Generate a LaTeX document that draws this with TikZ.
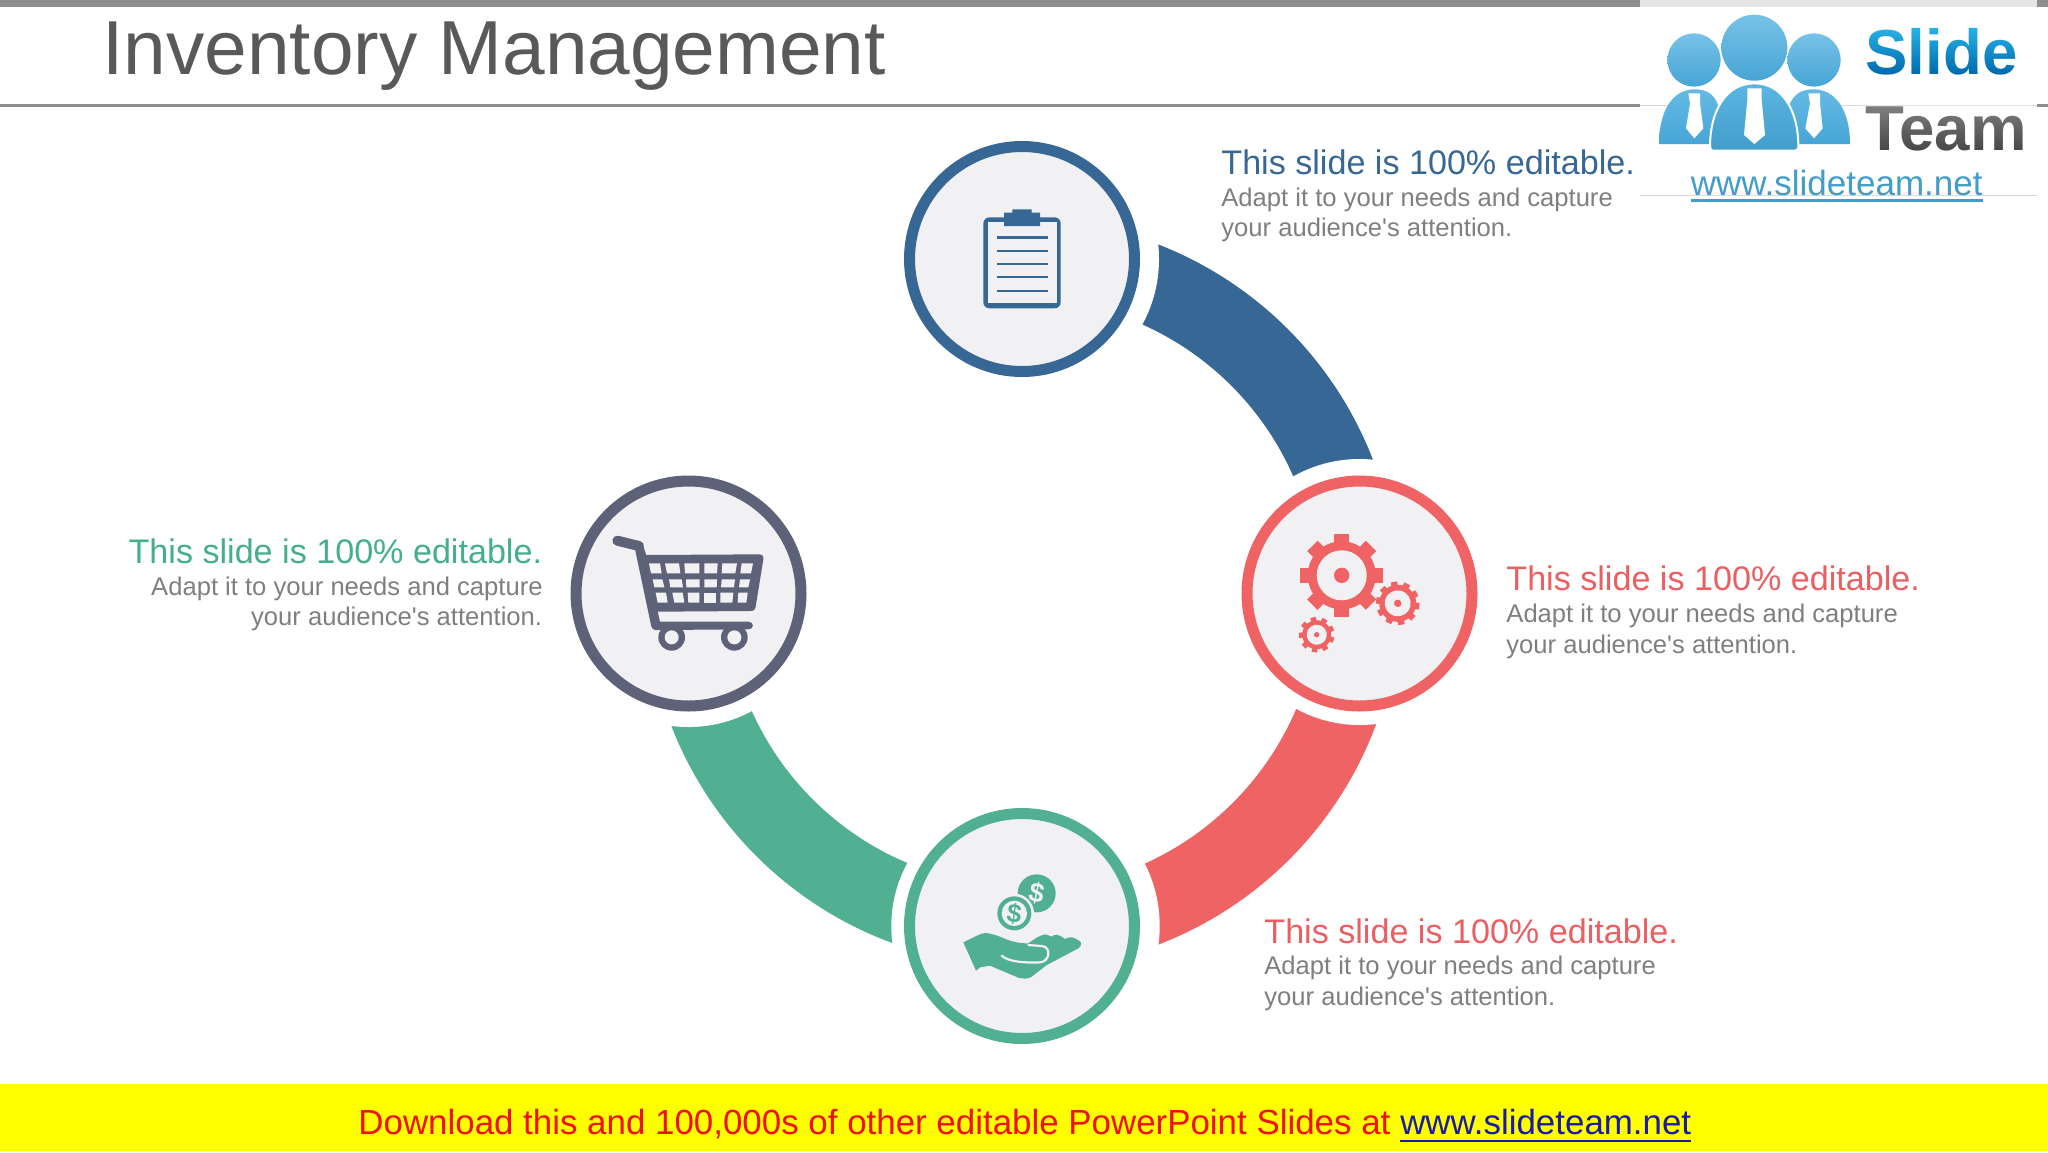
\documentclass[tikz,border=0pt]{standalone}
\usepackage{fontspec}
\setmainfont{Liberation Sans}
\newfontfamily\capfont{Liberation Sans}
\definecolor{cblue}{HTML}{376794}
\definecolor{cred}{HTML}{F06365}
\definecolor{cgreen}{HTML}{52B092}
\definecolor{cslate}{HTML}{5D6279}
\definecolor{cfill}{HTML}{F1F1F3}
\definecolor{cbody}{HTML}{7F7F7F}
\definecolor{ctitle}{HTML}{595959}
\definecolor{crule}{HTML}{8E8E8E}
\definecolor{clogo}{HTML}{4AAEE0}
\definecolor{clink}{HTML}{1A1AA8}
\definecolor{cheadred}{HTML}{E95F62}
\definecolor{cheadgreen}{HTML}{45AE8C}
\definecolor{pureyellow}{HTML}{FFFF00}
\definecolor{purered}{HTML}{F01010}
\definecolor{slidebase}{HTML}{0068AC}
\definecolor{slidelift}{HTML}{2B86C2}
\definecolor{teambase}{HTML}{444444}
\definecolor{teamlift}{HTML}{505050}
\tikzset{
  ringnode/.style={circle,draw=#1,fill=cfill,line width=5.5pt,minimum size=112.5pt,inner sep=0pt,outer sep=0pt},
  halo/.style={circle,fill=white,minimum size=#1pt,inner sep=0pt,outer sep=0pt},
  band/.style={line width=40pt,draw=#1},
  headtxt/.style={font=\capfont\fontsize{17.06pt}{20pt}\selectfont,text=#1,inner sep=0pt},
  bodytxt/.style={font=\capfont\fontsize{12.8pt}{15.3pt}\selectfont,text=cbody,inner sep=0pt},
}
\newcommand{\gearicon}[9]{% cx cy toothR bodyR holeR dotR toothW teeth rot
  \begin{scope}[shift={(#1,#2)},rotate=#9]
  \fill[cred] (0,0) circle (#4);
  \foreach \k in {1,...,#8}{
    \fill[cred,rotate=\k*360/#8] (-#7/2,0) rectangle (#7/2,-#3);
  }
  \fill[cfill] (0,0) circle (#5);
  \fill[cred] (0,0) circle (#6);
  \end{scope}}
\begin{document}
\begin{tikzpicture}[x=0.5pt,y=-0.5pt]
\useasboundingbox (0,0) rectangle (2048,1152);
\fill[white] (0,0) rectangle (2048,1152);
% header
\fill[crule] (0,0) rectangle (2048,7);
\fill[crule] (0,104) rectangle (2048,107);
\node[anchor=base west,inner sep=0pt,font=\fontsize{38.3pt}{40pt}\selectfont,text=ctitle] (title) at (102,74) {Inventory Management};
% logo
\fill[white] (1640,0) rectangle (2037,200);
\fill[black!10] (1640,0) rectangle (2037,7);
\fill[black!15] (1640,104.5) rectangle (2037,106);
\fill[black!15] (1640,195) rectangle (2037,196);
\begin{scope}[shift={(1620,0)},x=0.16667pt,y=-0.16667pt]
 \shade[top color=clogo!85,bottom color=clogo!95!black] (117,432) .. controls (117,330) and (160,268) .. (222,268) .. controls (285,268) and (300,300) .. (320,432) -- cycle;
 \shade[top color=clogo!85,bottom color=clogo!95!black] (690,432) .. controls (690,330) and (645,268) .. (582,268) .. controls (520,268) and (500,300) .. (480,432) -- cycle;
 \shade[top color=clogo!90,bottom color=clogo!90!black,draw=white,line width=1pt] (270,440) .. controls (270,330) and (320,250) .. (403,250) .. controls (486,250) and (535,330) .. (535,440) .. controls (535,448) and (530,452) .. (525,452) -- (280,452) .. controls (275,452) and (270,448) .. (270,440) -- cycle;
 \shade[top color=clogo!75,bottom color=clogo!95!black] (222,180) circle (80);
 \shade[top color=clogo!75,bottom color=clogo!95!black] (582,180) circle (80);
 \shade[top color=clogo!75,bottom color=clogo!95!black] (403,143) circle (99);
 \fill[white] (205,280) -- (240,280) -- (240,310) -- (250,385) -- (223,415) -- (198,385) -- (210,310) -- cycle;
 \fill[white] (382,265) -- (425,265) -- (425,300) -- (435,405) -- (403,432) -- (372,405) -- (382,300) -- cycle;
 \fill[white] (565,280) -- (600,280) -- (600,310) -- (608,385) -- (582,415) -- (556,385) -- (570,310) -- cycle;
 \node[anchor=base west,inner sep=0pt,font=\fontsize{31.8pt}{32pt}\selectfont\bfseries,text=slidebase] (logoslide) at (735,222) {Slide};
 \node[anchor=base west,inner sep=0pt,font=\fontsize{31.8pt}{32pt}\selectfont\bfseries,text=teambase] (logoteam) at (735,452) {Team};
 \shade[blend mode=screen,top color=slidelift,bottom color=black] (730,70) rectangle (1190,225);
 \shade[blend mode=screen,top color=teamlift,bottom color=black] (730,315) rectangle (1230,458);
 \node[anchor=base,inner sep=0pt,font=\fontsize{17.5pt}{18pt}\selectfont,text=clogo!90!black] (logourl) at (650,585) {www.slideteam.net};
 \fill[clogo!90!black] (213,597) rectangle (1088,606);
\end{scope}
% yellow bar
\fill[pureyellow] (0,1084) rectangle (2048,1151);
\node[anchor=base west,inner sep=0pt,font=\fontsize{17.45pt}{20pt}\selectfont] (banner) at (358,1134.5) {\textcolor{purered}{Download this and 100,000s of other editable PowerPoint Slides at} \textcolor{clink}{www.slideteam.net}};
\fill[clink] (1400,1139.5) rectangle (1691,1142);
% band anchors and circles
\coordinate (ctop) at (1022,259);
\coordinate (cright) at (1359.5,593.5);
\coordinate (cbottom) at (1022,926);
\coordinate (cleft) at (688.5,593.5);
\draw[band=cblue] (ctop) arc[start angle=-90,end angle=0,radius=336];
\node[halo=137] (hbluea) at (ctop) {};
\node[halo=134.5] (hblueb) at (cright) {};
\draw[band=cred] (cright) arc[start angle=0,end angle=90,radius=336];
\node[halo=131.5] (hreda) at (cright) {};
\node[halo=137.7] (hredb) at (cbottom) {};
\draw[band=cgreen] (cbottom) arc[start angle=90,end angle=180,radius=336];
\node[halo=130.7] (hgreena) at (cbottom) {};
\node[halo=133.5] (hgreenb) at (cleft) {};
\node[ringnode=cblue] (ntop) at (ctop) {};
\node[ringnode=cred] (nright) at (cright) {};
\node[ringnode=cgreen] (nbottom) at (cbottom) {};
\node[ringnode=cslate] (nleft) at (cleft) {};
% clipboard
\begin{scope}[shift={(900,130)},x=0.16667pt,y=-0.16667pt]
 \fill[cblue,rounded corners=3pt] (250,262) rectangle (482,535);
 \fill[cfill] (263,275) rectangle (470,518);
 \fill[cblue] (312,288) -- (312,248) -- (337,248) -- (337,238) -- (395,238) -- (395,248) -- (420,248) -- (420,288) -- cycle;
 \foreach \yy in {322,362,402,441,482}{
  \fill[cblue] (291,\yy-3.5) rectangle (443,\yy+3.5);
 }
\end{scope}
% gears
\gearicon{1341.7}{575.3}{41.5}{34}{25}{7.7}{14.7}{8}{0}
\gearicon{1397.7}{603.3}{21.7}{18.5}{13}{3.7}{6.5}{10}{10}
\gearicon{1316.7}{634.7}{17.7}{14.5}{10}{2.7}{5.5}{9}{12}
% hand with coins
\begin{scope}[shift={(900,805)},x=0.16667pt,y=-0.16667pt]
 \fill[cgreen] (410,265) circle (57);
 \fill[cfill] (343,325) circle (59);
 \fill[cgreen] (343,325) circle (51);
 \fill[cfill] (343,325) circle (38);
 \node[inner sep=0pt,rotate=-12,text=cfill,font=\fontsize{13.5pt}{14pt}\selectfont\bfseries] (dollarA) at (410,265) {\$};
 \node[inner sep=0pt,rotate=-8,text=cgreen,font=\fontsize{13pt}{14pt}\selectfont\bfseries] (dollarB) at (343,326) {\$};
 \fill[cgreen] (190,412) -- (235,390) .. controls (255,378) and (280,388) .. (300,395) .. controls (330,408) and (350,415) .. (385,415)
   .. controls (400,405) and (415,392) .. (435,388) .. controls (445,388) and (450,395) .. (455,395) .. controls (462,388) and (475,385) .. (495,402)
   .. controls (505,395) and (520,392) .. (543,412) .. controls (545,420) and (540,427) .. (535,430) -- (440,480) -- (395,515) .. controls (385,522) and (370,522) .. (355,518)
   -- (270,482) -- (240,487) -- (228,497) -- cycle;
 \draw[cfill,line width=1.1pt,line cap=round] (305,452) .. controls (325,470) and (370,474) .. (420,472) .. controls (450,470) and (455,425) .. (425,423) -- (385,420);
\end{scope}
% cart
\begin{scope}[shift={(565,470)},x=0.16667pt,y=-0.16667pt]
 \draw[cslate,line width=5pt,line cap=round] (157,212) -- (222,228);
 \fill[cslate] (208,228) -- (232,222) -- (244,255) -- (580,253) .. controls (592,253) and (597,258) .. (595,268) -- (572,410) .. controls (570,420) and (565,423) .. (555,423) -- (278,425) -- (285,455) -- (550,455) .. controls (568,455) and (568,478) .. (550,478) -- (275,480) .. controls (265,480) and (260,475) .. (258,465) -- cycle;
 \foreach \xa/\xb/\xc/\xd in {252/285/258/290, 300/342/306/346, 358/403/360/403, 418/458/418/456, 472/516/470/511, 530/564/526/558}{
  \fill[cfill] (\xa,280) -- (\xb,280) -- (\xd,310) -- (\xc,310) -- cycle;
 }
 \foreach \xa/\xb/\xc/\xd in {263/292/268/298, 312/350/316/354, 363/404/364/404, 418/456/418/455, 470/510/468/507, 525/555/522/550}{
  \fill[cfill] (\xa,328) -- (\xb,328) -- (\xd,352) -- (\xc,352) -- cycle;
 }
 \foreach \xa/\xb/\xc/\xd in {272/303/278/308, 322/353/328/358, 368/403/370/403, 418/453/418/453, 466/505/466/502, 520/548/518/544}{
  \fill[cfill] (\xa,368) -- (\xb,368) -- (\xd,398) -- (\xc,398) -- cycle;
 }
 \fill[cslate] (320,502) circle (40);
 \fill[cfill] (320,502) circle (21);
 \fill[cslate] (508,502) circle (40);
 \fill[cfill] (508,502) circle (21);
\end{scope}
% captions
\node[headtxt=cblue,anchor=base west] (h1) at (1221,174) {This slide is 100\% editable.};
\node[bodytxt,anchor=base west] (b1a) at (1221,206) {Adapt it to your needs and capture};
\node[bodytxt,anchor=base west] (b1b) at (1221,236) {your audience's attention.};
\node[headtxt=cheadred,anchor=base west] (h2) at (1506,590) {This slide is 100\% editable.};
\node[bodytxt,anchor=base west] (b2a) at (1506,622) {Adapt it to your needs and capture};
\node[bodytxt,anchor=base west] (b2b) at (1506,653) {your audience's attention.};
\node[headtxt=cheadred,anchor=base west] (h3) at (1264,943) {This slide is 100\% editable.};
\node[bodytxt,anchor=base west] (b3a) at (1264,974) {Adapt it to your needs and capture};
\node[bodytxt,anchor=base west] (b3b) at (1264,1005) {your audience's attention.};
\node[headtxt=cheadgreen,anchor=base east] (h4) at (542.5,563) {This slide is 100\% editable.};
\node[bodytxt,anchor=base east] (b4a) at (543,595) {Adapt it to your needs and capture};
\node[bodytxt,anchor=base east] (b4b) at (542.5,625) {your audience's attention.};
\end{tikzpicture}
\end{document}
